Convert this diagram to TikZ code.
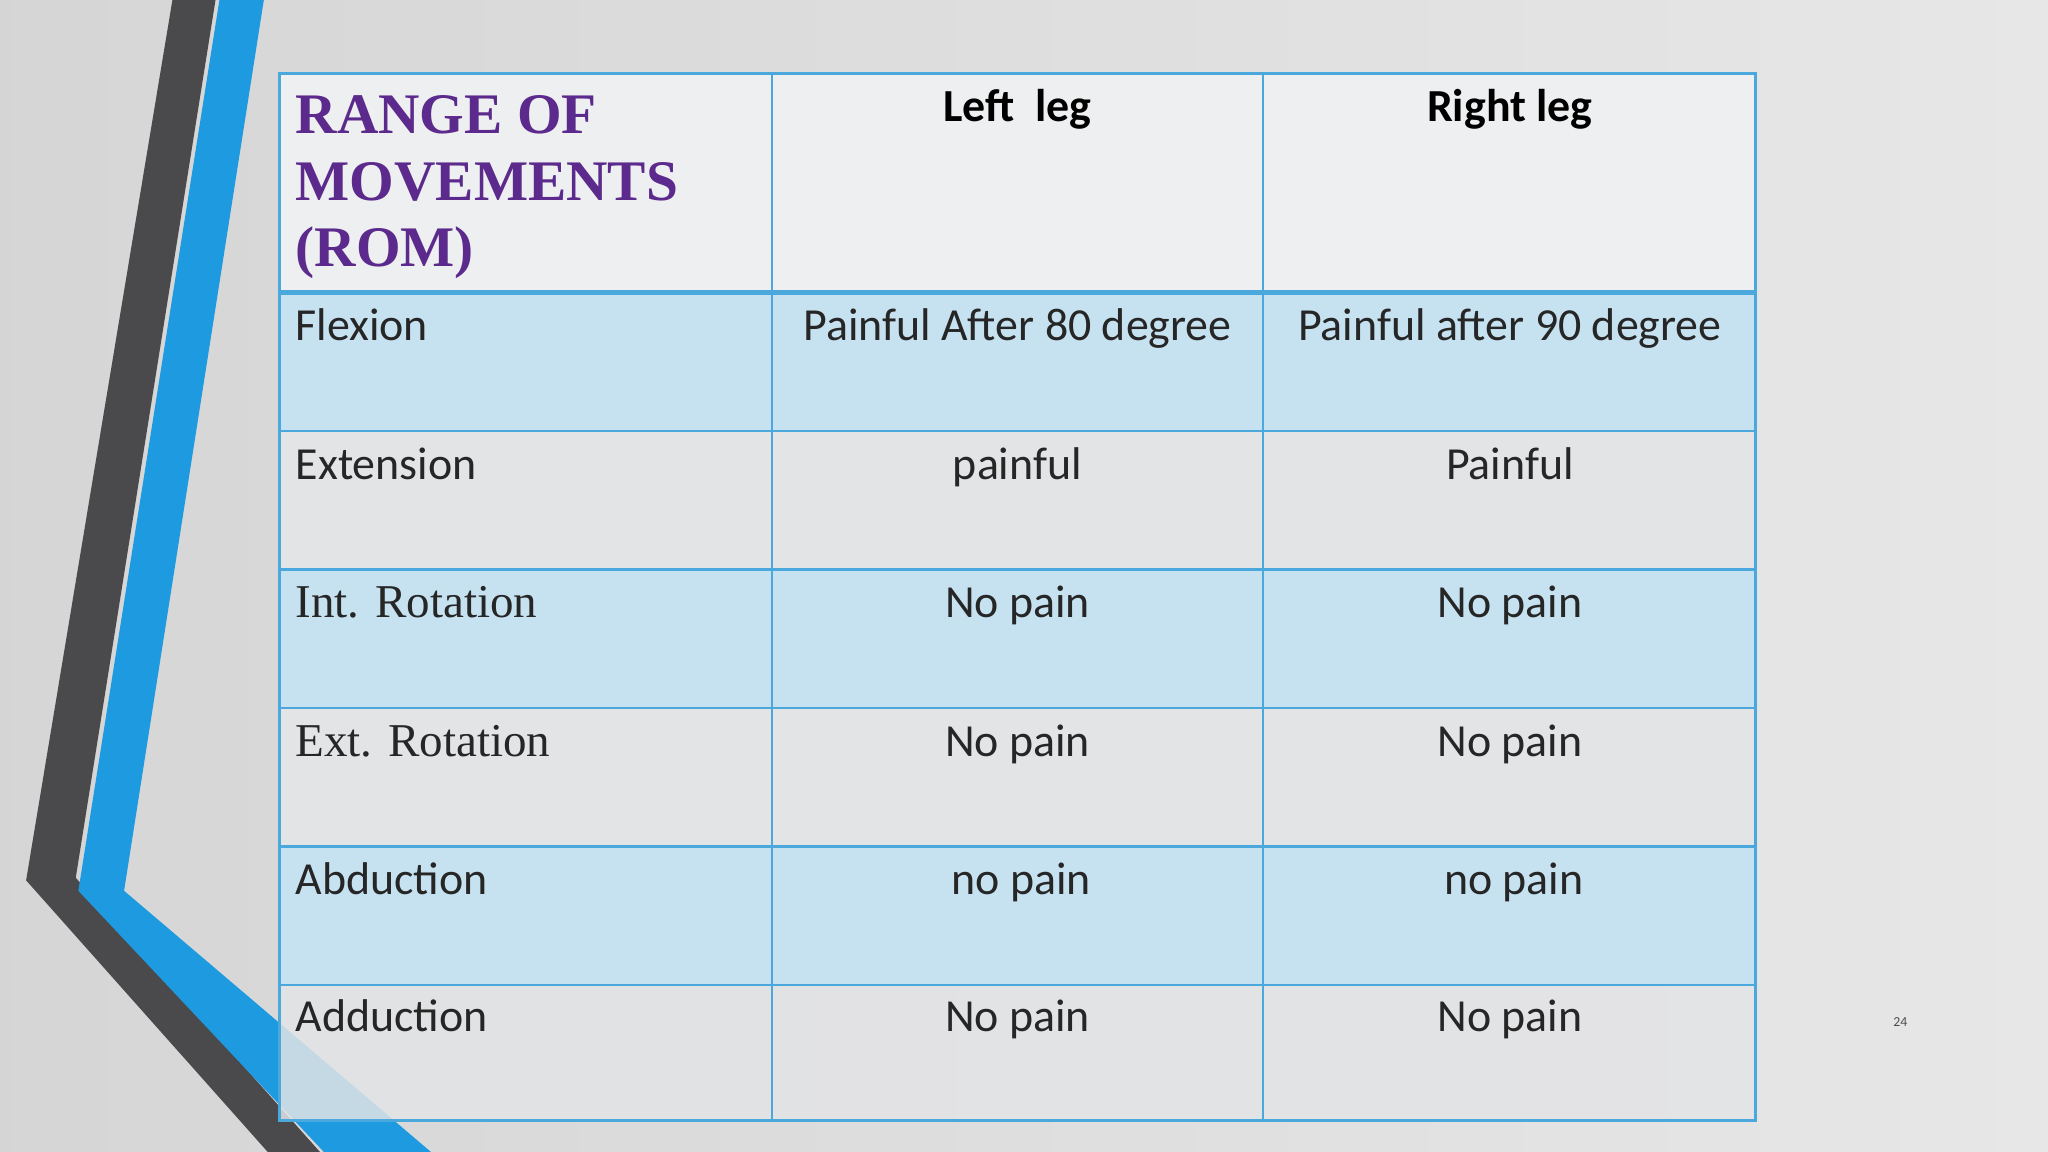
\documentclass[tikz,border=0pt]{standalone}
\usepackage{fontspec}
\setmainfont{Carlito}
\newfontfamily\tnr{Liberation Serif}
\definecolor{bord}{HTML}{4AA8DC}
\definecolor{rowb}{HTML}{C6E2F1}
\definecolor{rowg}{HTML}{E3E4E6}
\definecolor{hdr}{HTML}{EEEFF0}
\definecolor{purp}{HTML}{5B2A8C}
\definecolor{dgray}{HTML}{4A4A4C}
\definecolor{sblue}{HTML}{1E9BE0}
\begin{document}
\begin{tikzpicture}[x=0.02cm,y=-0.02cm,
  lab/.style={anchor=base west,inner sep=0,font=\fontsize{20}{24}\selectfont,text=black!85},
  tlab/.style={anchor=base west,inner sep=0,font=\tnr\fontsize{20.5}{24}\selectfont,text=black!85},
  val/.style={anchor=base,inner sep=0,font=\fontsize{20}{24}\selectfont,text=black!85},
  hd/.style={anchor=base,inner sep=0,font=\bfseries\fontsize{20}{24}\selectfont,text=black}]
\useasboundingbox (0,0) rectangle (1568,882);
\shade[left color=black!25,right color=black!8] (0,0) rectangle (1568,882);
\shade[inner color=white!90!black,outer color=white!90!black,opacity=0.6] (0,0) rectangle (1568,882);
% decorative stripes
\fill[dgray] (132,0) -- (165,0) -- (58,672) -- (245,882) -- (205,882) -- (20,674) -- cycle;
\fill[sblue] (168,0) -- (202,0) -- (95,682) -- (330,882) -- (248,882) -- (60,682) -- cycle;
% cells
\fill[hdr] (214,56) rectangle (1344,224);
\fill[rowb] (214,224) rectangle (1344,330);
\fill[rowg] (214,330) rectangle (1344,436);
\fill[rowb] (214,436) rectangle (1344,542);
\fill[rowg] (214,542) rectangle (1344,648);
\fill[rowb] (214,648) rectangle (1344,754);
\fill[rowg,opacity=0.85] (214,754) rectangle (1344,858);
\draw[bord,line width=1.2pt] (214,56) rectangle (1344,858);
\foreach \y in {330,436,542,648,754} \draw[bord,line width=1pt] (214,\y) -- (1344,\y);
\draw[bord,line width=2pt] (214,224) -- (1344,224);
\foreach \x in {591,967} \draw[bord,line width=1pt] (\x,56) -- (\x,858);
% header
\node[anchor=north west,inner sep=0,align=left,text=purp,font=\tnr\bfseries\fontsize{25}{29}\selectfont] (h0) at (226,73) {RANGE OF\\MOVEMENTS\\(ROM)};
\node[hd] (h1) at (779,93) {Left\ \ leg};
\node[hd] (h2) at (1156,93) {Right leg};
% rows
\node[lab] (r1) at (226,261) {Flexion};
\node[val] (r1a) at (779,261) {Painful After 80 degree};
\node[val] (r1b) at (1156,261) {Painful after 90 degree};
\node[lab] (r2) at (226,367) {Extension};
\node[val] (r2a) at (779,367) {painful};
\node[val] (r2b) at (1156,367) {Painful};
\node[tlab] (r3) at (226,473) {Int. Rotation};
\node[val] (r3a) at (779,473) {No pain};
\node[val] (r3b) at (1156,473) {No pain};
\node[tlab] (r4) at (226,579) {Ext. Rotation};
\node[val] (r4a) at (779,579) {No pain};
\node[val] (r4b) at (1156,579) {No pain};
\node[lab] (r5) at (226,685) {Abduction};
\node[val] (r5a) at (782,685) {no pain};
\node[val] (r5b) at (1159,685) {no pain};
\node[lab] (r6) at (226,790) {Adduction};
\node[val] (r6a) at (779,790) {No pain};
\node[val] (r6b) at (1156,790) {No pain};
\node[anchor=base,inner sep=0,font=\fontsize{6}{7}\selectfont,text=black!70] (pg) at (1455,786) {24};
\end{tikzpicture}
\end{document}
